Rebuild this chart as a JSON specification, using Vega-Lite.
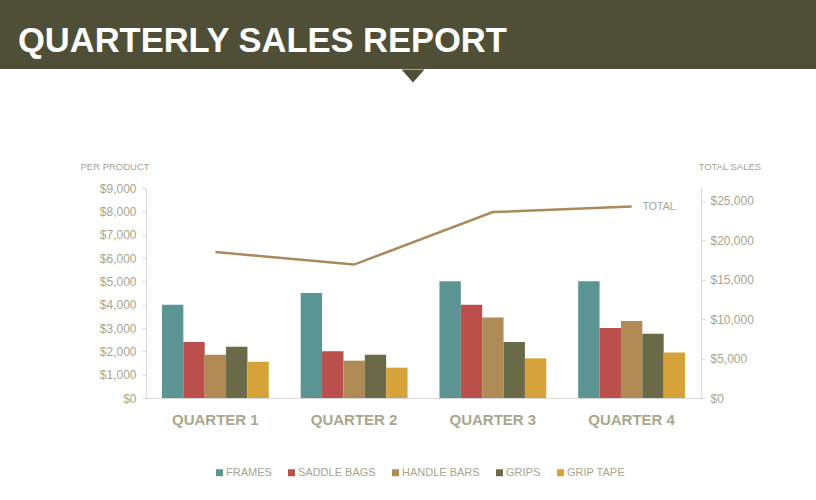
{
  "$schema": "https://vega.github.io/schema/vega-lite/v6.json",
  "padding": 0,
  "background": "white",
  "spacing": 78,
  "bounds": "full",
  "datasets": {
    "sales": [
      {"quarter": "QUARTER 1", "product": "FRAMES", "sales": 4000},
      {"quarter": "QUARTER 1", "product": "SADDLE BAGS", "sales": 2400},
      {"quarter": "QUARTER 1", "product": "HANDLE BARS", "sales": 1850},
      {"quarter": "QUARTER 1", "product": "GRIPS", "sales": 2200},
      {"quarter": "QUARTER 1", "product": "GRIP TAPE", "sales": 1550},
      {"quarter": "QUARTER 2", "product": "FRAMES", "sales": 4500},
      {"quarter": "QUARTER 2", "product": "SADDLE BAGS", "sales": 2000},
      {"quarter": "QUARTER 2", "product": "HANDLE BARS", "sales": 1600},
      {"quarter": "QUARTER 2", "product": "GRIPS", "sales": 1850},
      {"quarter": "QUARTER 2", "product": "GRIP TAPE", "sales": 1300},
      {"quarter": "QUARTER 3", "product": "FRAMES", "sales": 5000},
      {"quarter": "QUARTER 3", "product": "SADDLE BAGS", "sales": 4000},
      {"quarter": "QUARTER 3", "product": "HANDLE BARS", "sales": 3450},
      {"quarter": "QUARTER 3", "product": "GRIPS", "sales": 2400},
      {"quarter": "QUARTER 3", "product": "GRIP TAPE", "sales": 1700},
      {"quarter": "QUARTER 4", "product": "FRAMES", "sales": 5000},
      {"quarter": "QUARTER 4", "product": "SADDLE BAGS", "sales": 3000},
      {"quarter": "QUARTER 4", "product": "HANDLE BARS", "sales": 3300},
      {"quarter": "QUARTER 4", "product": "GRIPS", "sales": 2750},
      {"quarter": "QUARTER 4", "product": "GRIP TAPE", "sales": 1950}
    ],
    "totals": [
      {"quarter": "QUARTER 1", "total": 18500, "label": "TOTAL"},
      {"quarter": "QUARTER 2", "total": 16900, "label": "TOTAL"},
      {"quarter": "QUARTER 3", "total": 23550, "label": "TOTAL"},
      {"quarter": "QUARTER 4", "total": 24250, "label": "TOTAL"}
    ],
    "header": [
      {"title": "QUARTERLY SALES REPORT"}
    ]
  },
  "vconcat": [
    {
      "width": 816,
      "height": 69,
      "view": {"fill": "#4f4f37", "stroke": null},
      "title": {
        "text": "QUARTERLY SALES REPORT",
        "orient": "top",
        "anchor": "start",
        "frame": "group",
        "offset": -86,
        "baseline": "alphabetic",
        "dx": 18,
        "font": "Liberation Sans, Arial",
        "fontSize": 34.5,
        "fontWeight": "bold",
        "color": "#ffffff"
      },
      "data": {"name": "header"},
      "mark": {
        "type": "point",
        "shape": "M-6.5,35L16.5,35L5,48Z",
        "size": 4,
        "filled": true,
        "color": "#4f4f37",
        "opacity": 1,
        "strokeWidth": 0
      },
      "encoding": {}
    },
    {
      "width": 816,
      "height": 210,
      "view": {"stroke": null},
      "encoding": {
        "x": {
          "field": "quarter",
          "type": "nominal",
          "sort": ["QUARTER 1", "QUARTER 2", "QUARTER 3", "QUARTER 4"],
          "scale": {"range": [146, 701], "paddingInner": 0.23, "paddingOuter": 0.115},
          "axis": {
            "title": null,
            "labelAngle": 0,
            "ticks": false,
            "domainColor": "#d9d9d9",
            "domainWidth": 1,
            "labelFont": "Liberation Sans, Arial",
            "labelFontSize": 15,
            "labelFontWeight": "bold",
            "labelColor": "#a8a88e",
            "labelPadding": 14,
            "labelBaseline": "top"
          }
        }
      },
      "layer": [
        {
          "data": {"name": "sales"},
          "mark": {"type": "bar"},
          "encoding": {
            "xOffset": {
              "field": "product",
              "type": "nominal",
              "sort": ["FRAMES", "SADDLE BAGS", "HANDLE BARS", "GRIPS", "GRIP TAPE"],
              "scale": {"paddingInner": 0, "paddingOuter": 0}
            },
            "y": {
              "field": "sales",
              "type": "quantitative",
              "scale": {"domain": [0, 9000], "nice": false},
              "axis": {
                "orient": "left",
                "offset": -146,
                "values": [0, 1000, 2000, 3000, 4000, 5000, 6000, 7000, 8000, 9000],
                "format": "$,.0f",
                "grid": false,
                "domainColor": "#d9d9d9",
                "tickColor": "#d9d9d9",
                "tickSize": 4,
                "labelPadding": 6,
                "labelFont": "Liberation Sans, Arial",
                "labelFontSize": 12,
                "labelColor": "#a6a68c",
                "title": "PER PRODUCT",
                "titleAngle": 0,
                "titleAlign": "left",
                "titleBaseline": "alphabetic",
                "titleX": -66,
                "titleY": -19,
                "titleFont": "Liberation Sans, Arial",
                "titleFontSize": 9.5,
                "titleFontWeight": "normal",
                "titleColor": "#a6a68c"
              }
            },
            "color": {
              "field": "product",
              "type": "nominal",
              "sort": ["FRAMES", "SADDLE BAGS", "HANDLE BARS", "GRIPS", "GRIP TAPE"],
              "scale": {
                "domain": ["FRAMES", "SADDLE BAGS", "HANDLE BARS", "GRIPS", "GRIP TAPE"],
                "range": ["#5a9493", "#bb4f4b", "#b08b55", "#6a6a48", "#d6a23a"]
              },
              "legend": {
                "orient": "none",
                "legendX": 214,
                "legendY": 467,
                "direction": "horizontal",
                "title": null,
                "symbolType": "square",
                "symbolSize": 49,
                "symbolStrokeWidth": 0,
                "labelFont": "Liberation Sans, Arial",
                "labelFontSize": 11,
                "labelColor": "#a6a68c",
                "labelOffset": 1,
                "columnPadding": 14
              }
            }
          }
        },
        {
          "data": {"name": "totals"},
          "encoding": {
            "y": {
              "field": "total",
              "type": "quantitative",
              "scale": {"domain": [0, 26600], "nice": false},
              "axis": {
                "orient": "right",
                "offset": -115,
                "values": [0, 5000, 10000, 15000, 20000, 25000],
                "format": "$,.0f",
                "grid": false,
                "domainColor": "#d9d9d9",
                "tickColor": "#d9d9d9",
                "tickSize": 4,
                "labelPadding": 5,
                "labelFont": "Liberation Sans, Arial",
                "labelFontSize": 12,
                "labelColor": "#a6a68c",
                "title": "TOTAL SALES",
                "titleAngle": 0,
                "titleAlign": "left",
                "titleBaseline": "alphabetic",
                "titleX": -3,
                "titleY": -19,
                "titleFont": "Liberation Sans, Arial",
                "titleFontSize": 9.5,
                "titleFontWeight": "normal",
                "titleColor": "#a6a68c"
              }
            }
          },
          "layer": [
            {
              "mark": {"type": "line", "color": "#a98a5a", "strokeWidth": 2.5},
              "encoding": {}
            },
            {
              "transform": [{"filter": "datum.quarter === 'QUARTER 4'"}],
              "mark": {
                "type": "text",
                "align": "left",
                "baseline": "middle",
                "dx": 11,
                "font": "Liberation Sans, Arial",
                "fontSize": 10.5,
                "color": "#a6a68c"
              },
              "encoding": {"text": {"field": "label"}}
            }
          ]
        }
      ],
      "resolve": {"scale": {"y": "independent"}}
    }
  ]
}
